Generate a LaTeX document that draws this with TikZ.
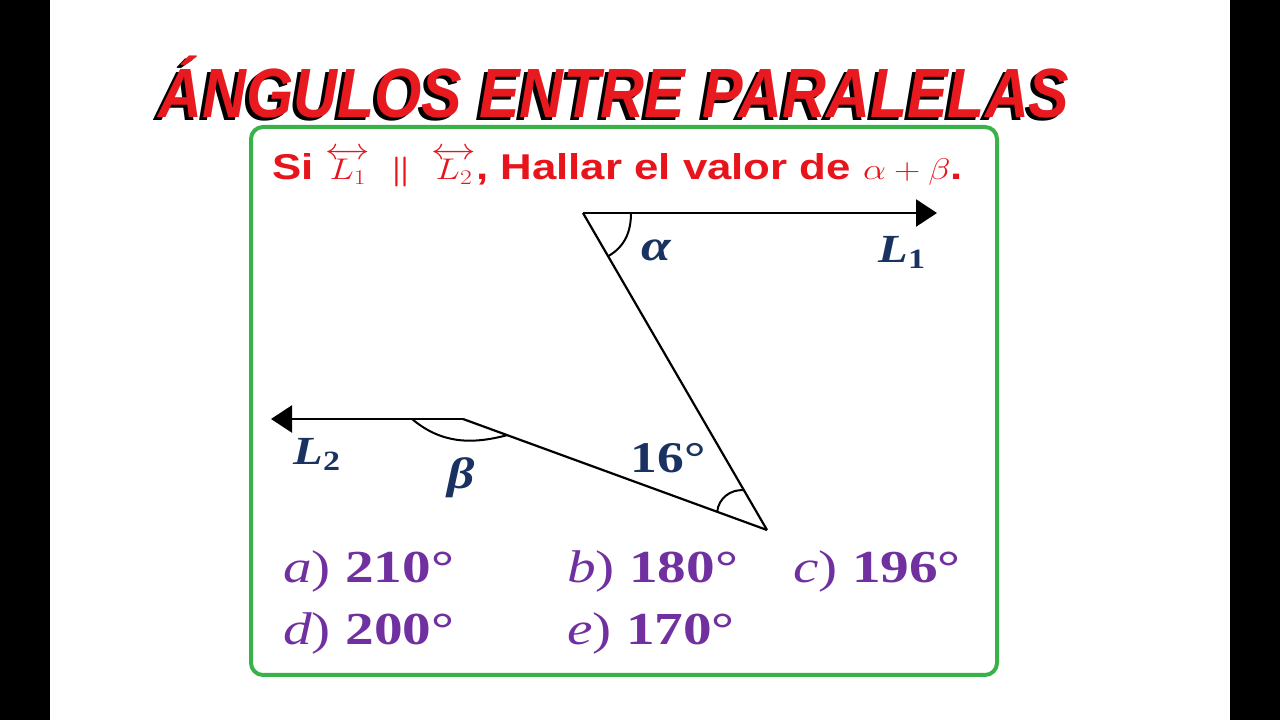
\RequirePackage{fix-cm}
\documentclass[tikz,border=0pt]{standalone}
\usepackage{amsmath}
\usepackage{fontspec}
\setmainfont{Liberation Serif}
\newfontfamily\headfont{Liberation Sans}
\usetikzlibrary{calc, arrows.meta}

\definecolor{titlered}{RGB}{232,26,32}
\definecolor{askred}{RGB}{232,20,28}
\definecolor{labelnavy}{RGB}{26,50,98}
\definecolor{optpurple}{RGB}{112,48,160}
\definecolor{framegreen}{RGB}{58,178,74}

\newcommand{\wide}[2][1.22]{\scalebox{#1}[1]{#2}}
\newcommand{\mathsize}{\fontsize{30}{36}\selectfont}

\tikzset{
  ray/.style={line width=2.4bp, -{Triangle[length=21bp,width=27bp]}},
  seg/.style={line width=2.2bp},
  anglemark/.style={line width=2bp},
  lbl/.style={text=labelnavy, inner sep=0pt, font=\fontsize{44}{50}\selectfont\bfseries\itshape},
  num/.style={text=labelnavy, inner sep=0pt, font=\fontsize{44}{50}\selectfont\bfseries},
  opt/.style={text=optpurple, anchor=base west, inner sep=0pt, font=\fontsize{46}{52}\selectfont},
  headline/.style={inner sep=0pt, anchor=base, font=\headfont\bfseries\itshape\fontsize{70}{78}\selectfont},
}

\begin{document}
\begin{tikzpicture}[line join=round]
\useasboundingbox (0bp,0bp) rectangle (1280bp,720bp);
%%
  % Background and side bars
  \fill[white] (0bp,0bp) rectangle (1280bp,720bp);
  \fill[black] (0bp,0bp) rectangle (50bp,720bp);
  \fill[black] (1230bp,0bp) rectangle (1280bp,720bp);
  % Frame
  \draw[framegreen, line width=4bp, rounded corners=12bp] (251bp,45bp) rectangle (997bp,593bp);
  % Title
  \node[headline, text=black] (shade) at (610bp,599bp) {\wide[0.872]{ÁNGULOS ENTRE PARALELAS}};
  \node[headline, text=titlered] (title) at (614bp,602bp) {\wide[0.872]{ÁNGULOS ENTRE PARALELAS}};
  % Question
  \node[inner sep=0pt, anchor=base west, text=askred, font=\headfont\bfseries\fontsize{36}{42}\selectfont]
    (ask) at (272bp,540bp) {\wide[1.22]{Si {\mathsize$\overleftrightarrow{L_1}\;\boldsymbol{\parallel}\;\overleftrightarrow{L_2}$}, Hallar el valor de {\mathsize$\alpha+\beta$}.}};
%%
  % Points
  \coordinate (A) at (583bp,507bp);
  \coordinate (B) at (463bp,301bp);
  \coordinate (C) at (767bp,190bp);
  \coordinate (Lone) at (937bp,507bp);
  \coordinate (Ltwo) at (271bp,301bp);
  % Edge: A -- L1
  \draw[ray] (A) -- (Lone);
  % Edge: B -- L2
  \draw[ray] (B) -- (Ltwo);
  % Edge: A -- C
  \draw[seg] (A) -- (C);
  % Edge: C -- B
  \draw[seg] (C) -- (B);
  % Angle marks
  \draw[anglemark] ($(A)!48bp!(Lone)$) to[out=-90, in=30] ($(A)!50bp!(C)$);
  \draw[anglemark] ($(B)!51bp!(Ltwo)$) to[out=-40, in=195] ($(B)!47bp!(C)$);
  \draw[anglemark] ($(C)!53bp!(B)$) to[out=85, in=175] ($(C)!46bp!(A)$);
  % Labels
  \node[lbl] (alpha) at (656bp,470bp) {\wide{α}};
  \node[lbl, font=\fontsize{40}{46}\selectfont\bfseries\itshape] (lone) at (902bp,468bp) {\wide{L\textsubscript{\upshape 1}}};
  \node[lbl, font=\fontsize{40}{46}\selectfont\bfseries\itshape] (ltwo) at (317bp,266bp) {\wide{L\textsubscript{\upshape 2}}};
  \node[lbl] (beta) at (461bp,242bp) {\wide{β}};
  \node[num] (angC) at (668bp,262bp) {\wide{16°}};
%%
  % Options
  \node[opt] (opta) at (283bp,137bp) {\wide[1.25]{\textit{a}) \textbf{210°}}};
  \node[opt] (optb) at (567bp,137bp) {\wide[1.25]{\textit{b}) \textbf{180°}}};
  \node[opt] (optc) at (793bp,137bp) {\wide[1.25]{\textit{c}) \textbf{196°}}};
  \node[opt] (optd) at (283bp,75bp) {\wide[1.25]{\textit{d}) \textbf{200°}}};
  \node[opt] (opte) at (567bp,75bp) {\wide[1.25]{\textit{e}) \textbf{170°}}};
%
\end{tikzpicture}
\end{document}
